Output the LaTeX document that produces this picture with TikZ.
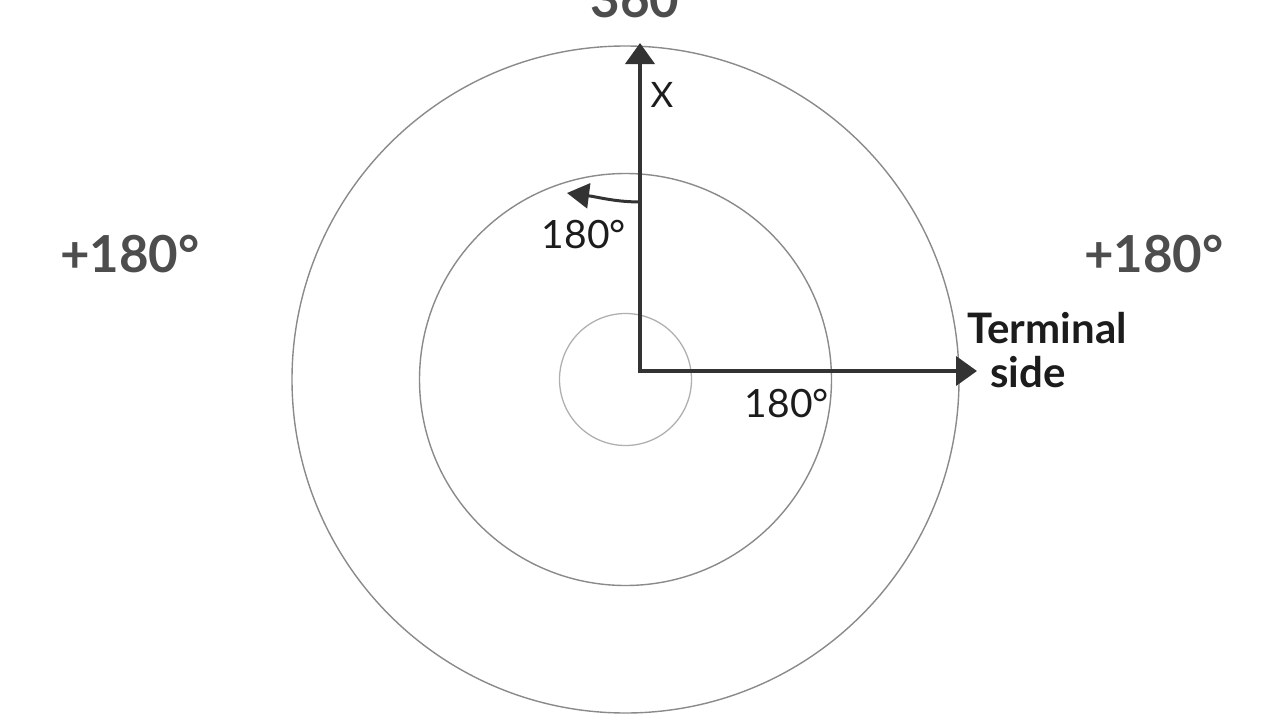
\documentclass[tikz,border=0pt]{standalone}
\usepackage{fontspec}
\setmainfont{Lato}
\usetikzlibrary{arrows.meta}
\definecolor{ringgray}{HTML}{8A8A8A}
\definecolor{ringlight}{HTML}{B0B0B0}
\definecolor{axisgray}{HTML}{333333}
\definecolor{biggray}{HTML}{4D4D4D}
\definecolor{txtdark}{HTML}{1C1C1C}
\tikzset{
  ring/.style={draw=ringgray, line width=1.4pt},
  ringin/.style={draw=ringlight, line width=1.3pt},
  axisline/.style={draw=axisgray, line width=4pt, -{Triangle[width=29pt,length=21pt]}},
  turnline/.style={draw=axisgray, line width=3pt, -{Triangle[width=25pt,length=22pt]}},
  bigtxt/.style={text=biggray, font=\fontsize{51}{60}\selectfont\bfseries, inner sep=0pt, anchor=base},
  regtxt/.style={text=txtdark, font=\fontsize{39}{46}\selectfont, inner sep=0pt, anchor=base},
  termtxt/.style={text=txtdark, font=\fontsize{42}{50}\selectfont\bfseries, inner sep=0pt, anchor=base},
}
\begin{document}
\begin{tikzpicture}[x=1pt,y=-1pt]
\useasboundingbox (0,0) rectangle (1280,720);
% rings
\coordinate (C) at (625.5,379.5);
\draw[ring] (C) circle[radius=333.5];
\draw[ring] (C) circle[radius=206];
\draw[ringin] (C) circle[radius=66];
% axes
\coordinate (O) at (640,371);
\coordinate (top) at (640,43);
\coordinate (right) at (977,371);
\draw[axisline] ([yshift=-2pt]O) -- (top);
\draw[axisline] ([xshift=-2pt]O) -- (right);
% turning arrow
\coordinate (ts) at (641,202);
\coordinate (te) at (567,193);
\draw[turnline] (ts) .. controls (615,202) and (598,197) .. (te);
% labels
\node[bigtxt] (n360) at (635,17) {360};
\node[bigtxt] (lp) at (130,272) {+180°};
\node[bigtxt] (rp) at (1154,272) {+180°};
\node[regtxt, font=\fontsize{35}{40}\selectfont] (xl) at (662,107) {X};
\node[regtxt] (a1) at (584,248) {180°};
\node[regtxt] (a2) at (787,417) {180°};
\node[termtxt] (term) at (1047,343) {Terminal};
\node[termtxt] (side) at (1028,387) {side};
\end{tikzpicture}
\end{document}
